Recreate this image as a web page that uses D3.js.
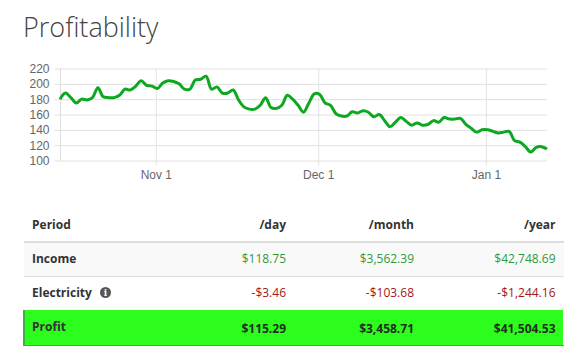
<!DOCTYPE html>
<html>
<head>
<meta charset="utf-8">
<script src="https://cdnjs.cloudflare.com/ajax/libs/d3/7.8.5/d3.min.js"></script>
<style>
  html, body { margin: 0; padding: 0; background: #fff; overflow: hidden; }
  svg { display: block; }
</style>
</head>
<body>
<svg width="583" height="364"></svg>
<script>
const firstDay = new Date(2017, 9, 14, 7);
const profit = [180,188,182,175,180,179,182,195,183,182,182,185,193,192,197,204,198,197,194,201,204,203,200,193,193,205,206,210,193,196,188,188,192,179,170,167,167,172,182,169,168,172,185,180,172,
  163,175,187,186,175,172,161,158,158,163.5,162,165,163,157,160,152,144,150,156,151,146,149,146,147,152,150,156,154,154,155,147,142,137,140,140,138,136,137,138,126,124,118,111,117,118,115];
const yTicks = [100,120,140,160,180,200,220];
const xTicks = [new Date(2017,10,1), new Date(2017,11,1), new Date(2018,0,1)];

const headers = ["Period","/day","/month","/year"];
const incomeRow = ["Income","$118.75","$3,562.39","$42,748.69"];
const electricityRow = ["Electricity","-$3.46","-$103.68","-$1,244.16"];
const profitRow = ["Profit","$115.29","$3,458.71","$41,504.53"];

const svg = d3.select("svg");
const sans = "'Open Sans', sans-serif";

svg.append("text")
    .attr("x", 23).attr("y", 37)
    .attr("font-family", sans).attr("font-weight", 300)
    .attr("font-size", 27).attr("fill", "#444")
    .text("Profitability");

// chart
const days = profit.map((d, i) => d3.timeDay.offset(firstDay, i));
const x = d3.scaleTime().domain([firstDay, days[days.length - 1]]).range([60, 547]);
const y = d3.scaleLinear().domain([100, 220]).range([160.5, 68.5]);

const xAxis = svg.append("g")
    .attr("transform", "translate(0,160.5)")
    .call(d3.axisBottom(x).tickValues(xTicks).tickFormat(d3.timeFormat("%b %-d")).tickSize(5).tickPadding(5));
xAxis.select(".domain").remove();
xAxis.selectAll("line").attr("y1", -92).attr("y2", 5).attr("stroke", "#e3e3e3");
xAxis.selectAll("text").attr("font-family", "'Liberation Sans', Arial, sans-serif").attr("font-size", 12).attr("fill", "#666");

const yAxis = svg.append("g")
    .attr("transform", "translate(60.5,0)")
    .call(d3.axisLeft(y).tickValues(yTicks).tickSize(6).tickPadding(5));
yAxis.select(".domain").attr("d", "M0,68.5V160.5").attr("stroke", "#ddd");
yAxis.selectAll("line").attr("x1", -6).attr("x2", 486.5).attr("stroke", "#e0e0e0");
yAxis.selectAll("text").attr("font-family", "'Liberation Sans', Arial, sans-serif").attr("font-size", 12).attr("fill", "#666");

const line = d3.line().x((d, i) => x(days[i])).y(d => y(d)).curve(d3.curveCatmullRom.alpha(0.5));
svg.append("path").datum(profit)
    .attr("d", line).attr("fill", "none")
    .attr("stroke", "#0ca81f").attr("stroke-width", 3).attr("stroke-linejoin", "round");

// table
const colRight = [null, 286, 414, 555.5];
const drawRow = (row, baseline, weight, color, labelBaseline) => {
    row.forEach((t, i) => {
        svg.append("text")
            .attr("x", i == 0 ? 32 : colRight[i]).attr("y", i == 0 && labelBaseline ? labelBaseline : baseline)
            .attr("text-anchor", i == 0 ? "start" : "end")
            .attr("font-family", sans).attr("font-size", 12)
            .attr("font-weight", i == 0 ? 700 : weight)
            .attr("fill", i == 0 ? "#333" : color)
            .text(t);
    });
};

svg.append("rect").attr("x", 24).attr("y", 243).attr("width", 540).attr("height", 33).attr("fill", "#f9f9f9");
svg.append("rect").attr("x", 24).attr("y", 241).attr("width", 540).attr("height", 2).attr("fill", "#ddd");
svg.append("rect").attr("x", 24).attr("y", 276).attr("width", 540).attr("height", 1).attr("fill", "#ddd");
svg.append("rect").attr("x", 24).attr("y", 310).attr("width", 539).attr("height", 35).attr("fill", "#2dfd1c");
svg.append("rect").attr("x", 23).attr("y", 310).attr("width", 2).attr("height", 36).attr("fill", "#3cb043");
svg.append("rect").attr("x", 24).attr("y", 345).attr("width", 540).attr("height", 1).attr("fill", "#3cb043");

drawRow(headers, 229, 700, "#333");
drawRow(incomeRow, 263, 400, "#2f9a3c");
drawRow(electricityRow, 297, 400, "#a01818");
drawRow(profitRow, 333, 700, "#1f2f1f", 331);

// info icon
const icon = svg.append("g").attr("transform", "translate(105.5,292.5)");
icon.append("circle").attr("r", 5.5).attr("fill", "#555");
icon.append("text").attr("y", 3.5).attr("text-anchor", "middle")
    .attr("font-family", "'DejaVu Serif', serif").attr("font-weight", 700)
    .attr("font-size", 9).attr("fill", "#fff").text("i");
</script>
</body>
</html>
